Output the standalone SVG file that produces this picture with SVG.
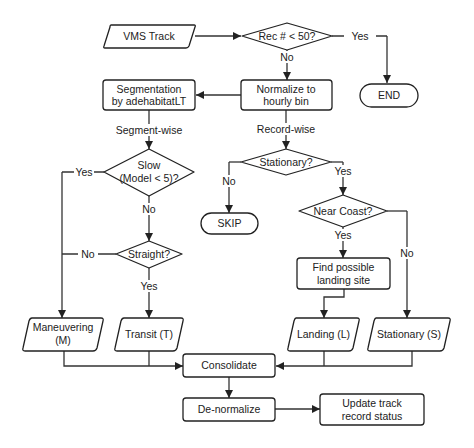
<svg xmlns="http://www.w3.org/2000/svg" width="474" height="448" viewBox="0 0 474 448">
<defs>
<marker id="ah" viewBox="0 0 10 10" refX="10" refY="5" markerWidth="8" markerHeight="8" markerUnits="userSpaceOnUse" orient="auto">
<path d="M0,0 L10,5 L0,10 z" fill="#222"/>
</marker>
<style>
.s{fill:#fff;stroke:#222;stroke-width:1.3;stroke-linejoin:round}
.c{fill:none;stroke:#333;stroke-width:1.3}
.a{marker-end:url(#ah)}
text{font-family:"Liberation Sans",Arial,sans-serif;font-size:10.5px;fill:#222;text-anchor:middle}
.l{fill:#fff}
</style>
</defs>
<rect width="474" height="448" fill="#fff"/>
<g id="connectors">
<path class="c a" d="M195,36 H241"/>
<path class="c" d="M332,36 H387"/>
<path class="c a" d="M387,36 V83"/>
<path class="c a" d="M287,50 V80"/>
<path class="c a" d="M241,95 H196"/>
<path class="c a" d="M149,110 V149"/>
<path class="c a" d="M286,110 V149"/>
<path class="c" d="M104,172 H62"/>
<path class="c a" d="M62,172 V318"/>
<path class="c" d="M116,254 H62"/>
<path class="c a" d="M149,196 V241"/>
<path class="c a" d="M149,268 V318"/>
<path class="c" d="M241,162 H229"/>
<path class="c a" d="M229,162 V213"/>
<path class="c" d="M331,162 H343"/>
<path class="c a" d="M343,162 V195"/>
<path class="c a" d="M343,227 V258"/>
<path class="c" d="M387,211 H407"/>
<path class="c a" d="M407,211 V318"/>
<path class="c a" d="M344,289 V297 H324 V318"/>
<path class="c a" d="M64,351 V366 H183"/>
<path class="c" d="M149,351 V366"/>
<path class="c a" d="M412,351 V366 H276"/>
<path class="c" d="M324,351 V366"/>
<path class="c a" d="M229,377 V398"/>
<path class="c a" d="M275,409 H320"/>
</g>
<g id="labels">
<rect class="l" x="344" y="30" width="32" height="12"/><text x="360" y="40">Yes</text>
<rect class="l" x="277" y="51" width="20" height="12"/><text x="287" y="61">No</text>
<rect class="l" x="116" y="124" width="66" height="12"/><text x="149" y="134">Segment-wise</text>
<rect class="l" x="256" y="123" width="60" height="12"/><text x="286" y="133">Record-wise</text>
<rect class="l" x="74" y="166" width="20" height="12"/><text x="84" y="176">Yes</text>
<rect class="l" x="139" y="203" width="20" height="12"/><text x="149" y="213">No</text>
<rect class="l" x="78" y="248" width="20" height="12"/><text x="88" y="258">No</text>
<rect class="l" x="139" y="280" width="20" height="12"/><text x="149" y="290">Yes</text>
<rect class="l" x="219" y="175" width="20" height="12"/><text x="229" y="185">No</text>
<rect class="l" x="333" y="165" width="20" height="12"/><text x="343" y="175">Yes</text>
<rect class="l" x="333" y="229" width="20" height="12"/><text x="343" y="239">Yes</text>
<rect class="l" x="397" y="247" width="20" height="12"/><text x="407" y="257">No</text>
</g>
<g id="vms"><path class="s" d="M111,25 H194 Q196,25 195,27 L189,46 Q188,48 186,48 H105 Q103,48 104,46 L110,27 Q110,25 111,25 z"/><text x="149" y="40">VMS Track</text></g>
<g id="rec"><path class="s" d="M287,23 L332,36 L287,50 L242,36 z"/><text x="287" y="40">Rec # &lt; 50?</text></g>
<g id="end"><rect class="s" x="360" y="84" width="58" height="23" rx="11.5"/><text x="389" y="99">END</text></g>
<g id="normalize"><rect class="s" x="241" y="80" width="91" height="30" rx="3"/><text x="286" y="93">Normalize to</text><text x="286" y="105">hourly bin</text></g>
<g id="segmentation"><rect class="s" x="103" y="80" width="92" height="30" rx="3"/><text x="149" y="93">Segmentation</text><text x="149" y="105">by adehabitatLT</text></g>
<g id="slow"><path class="s" d="M149,149 L194,172 L149,196 L104,172 z"/><text x="149" y="169">Slow</text><text x="149" y="182">(Model &lt; 5)?</text></g>
<g id="straight"><path class="s" d="M149,241 L182,254 L149,268 L116,254 z"/><text x="149" y="258">Straight?</text></g>
<g id="stationaryq"><path class="s" d="M286,149 L331,162 L286,175 L241,162 z"/><text x="286" y="166">Stationary?</text></g>
<g id="skip"><rect class="s" x="201" y="213" width="57" height="21" rx="10.5"/><text x="229.5" y="227">SKIP</text></g>
<g id="nearcoast"><path class="s" d="M343,195 L387,211 L343,227 L299,211 z"/><text x="343" y="215">Near Coast?</text></g>
<g id="find"><rect class="s" x="297" y="258" width="93" height="31" rx="3"/><text x="343.5" y="271">Find possible</text><text x="343.5" y="284">landing site</text></g>
<g id="maneuvering"><path class="s" d="M32,318 H101 Q104,318 103,321 L97,348 Q96,351 93,351 H25 Q22,351 23,348 L29,321 Q30,318 32,318 z"/><text x="63" y="331">Maneuvering</text><text x="63" y="344">(M)</text></g>
<g id="transit"><path class="s" d="M124,318 H181 Q184,318 183,321 L177,348 Q176,351 173,351 H117 Q114,351 115,348 L121,321 Q122,318 124,318 z"/><text x="149" y="338">Transit (T)</text></g>
<g id="landing"><path class="s" d="M296,318 H357 Q360,318 359,321 L353,348 Q352,351 349,351 H290 Q287,351 288,348 L294,321 Q295,318 296,318 z"/><text x="323.5" y="338">Landing (L)</text></g>
<g id="stationarys"><path class="s" d="M376,318 H448 Q451,318 450,321 L444,348 Q443,351 440,351 H370 Q367,351 368,348 L374,321 Q375,318 376,318 z"/><text x="409" y="338">Stationary (S)</text></g>
<g id="consolidate"><rect class="s" x="183" y="354" width="92" height="23" rx="3"/><text x="229" y="369">Consolidate</text></g>
<g id="denormalize"><rect class="s" x="183" y="398" width="92" height="23" rx="3"/><text x="229" y="413">De-normalize</text></g>
<g id="update"><rect class="s" x="320" y="394" width="104" height="31" rx="3"/><text x="372" y="407">Update track</text><text x="372" y="420">record status</text></g>
</svg>
